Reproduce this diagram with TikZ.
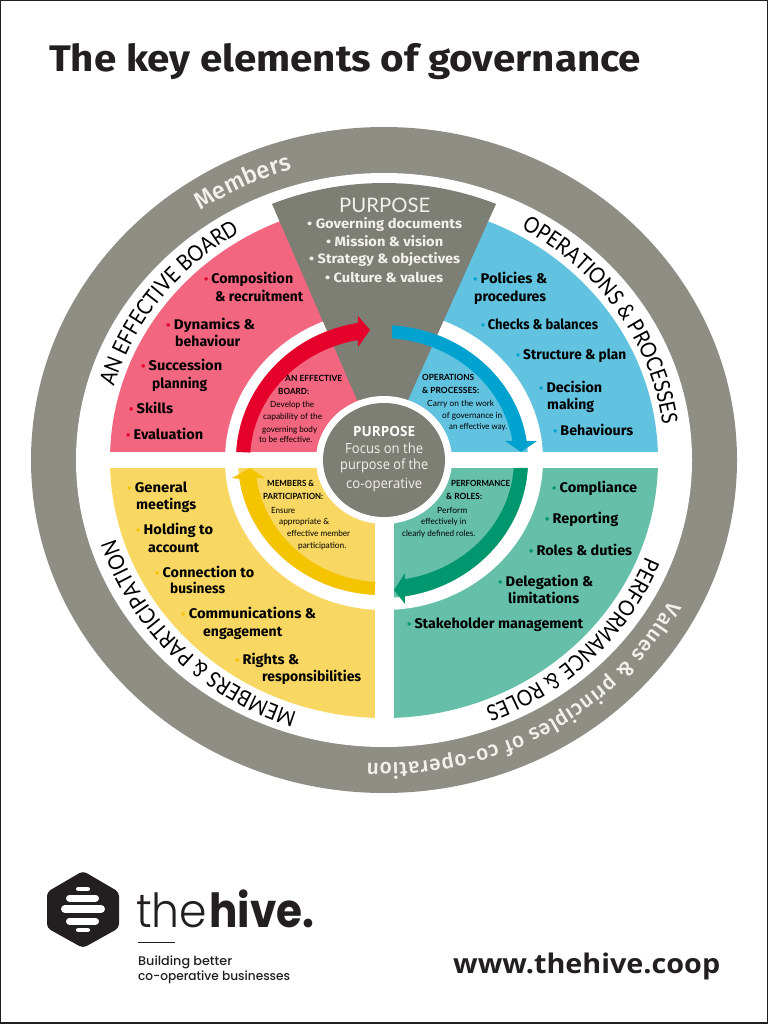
\documentclass[tikz,border=0pt]{standalone}
\usepackage{fontspec}
\usepackage{graphicx}
\usetikzlibrary{decorations.text}
\setmainfont{Lato}
\newfontfamily\itemf{Fira Sans}
\newfontfamily\ringmed{Fira Sans Medium}
\newfontfamily\capf{Lato}
\newfontfamily\ringf{Lato}[FakeStretch=0.88]
\newfontfamily\wwwf{Open Sans}
\newfontfamily\popf{Poppins}
\newfontfamily\poplight{Poppins Light}
\newfontfamily\popmed{Poppins Medium}
\definecolor{ringgray}{HTML}{8F8E84}
\definecolor{wedgegray}{HTML}{7D7E74}
\definecolor{qpink}{HTML}{F2667F}
\definecolor{qblue}{HTML}{62C3E0}
\definecolor{qteal}{HTML}{65BFA9}
\definecolor{qyellow}{HTML}{F8D862}
\definecolor{ared}{HTML}{E4002B}
\definecolor{ablue}{HTML}{00A3D0}
\definecolor{ateal}{HTML}{00966E}
\definecolor{ayellow}{HTML}{F5C400}
\definecolor{inkdark}{HTML}{231F20}
\definecolor{softwhite}{HTML}{F2F2EC}
\newcommand\tline[6]{\node[anchor=base west,inner sep=0pt,#5] (#1) at (#2,-#4) {\resizebox{\dimexpr #3pt-#2pt\relax}{\height}{#6}};}
\newcommand\qfill[8]{\begin{scope}\clip (#8,-460) ellipse [x radius=#6pt,y radius=#7pt]; \fill[#1] (#2,-#3) rectangle (#4,-#5);\end{scope}}
\newcommand\bu[1]{\textcolor{#1}{\fontsize{12}{12}\selectfont•}\hspace{3pt}}
\newcommand\ringcap{\ringf\fontsize{22}{22}\selectfont\color{black}}
\newcommand\ringwhite{\ringmed\fontsize{21}{21}\selectfont\color{softwhite}}
\newcommand\ringbig{\ringmed\fontsize{24}{24}\selectfont\color{softwhite}}
\newcommand\ringtext[6]{\path[decorate,decoration={text along path,text align={fit to path},text={|#6|#5}}] ([shift={(384,-460)}]#1:#3pt and #4pt) arc[start angle=#1,end angle=#2,x radius=#3pt,y radius=#4pt];}
\tikzset{
 itm/.style={font=\itemf\bfseries\fontsize{14}{14}\selectfont,text=black},
 wdg/.style={font=\itemf\bfseries\fontsize{13.5}{14}\selectfont,text=softwhite},
 smh/.style={font=\capf\bfseries\fontsize{8.5}{9}\selectfont,text=black},
 sml/.style={font=\capf\fontsize{8.5}{9}\selectfont,text=black},
 ctr/.style={font=\wwwf\fontsize{14}{14}\selectfont,text=softwhite},
 ctrb/.style={font=\wwwf\bfseries\fontsize{14}{14}\selectfont,text=white},
}
\begin{document}
\begin{tikzpicture}[x=1pt,y=1pt]
\useasboundingbox (0,0) rectangle (768,-1024);
\fill[white] (0,0) rectangle (768,-1024);
\draw[inkdark,line width=1.5pt] (0.5,-0.5) rectangle (767.5,-1023);
% title
\tline{title}{49}{641}{72}{font=\itemf\bfseries\fontsize{37}{38}\selectfont,text=inkdark}{The key elements of governance}
% rings
\fill[ringgray] (384,-460) ellipse [x radius=353pt,y radius=333pt];
\fill[white] (384,-460) ellipse [x radius=308pt,y radius=287pt];
% quadrants
\qfill{qpink}{90}{180}{375}{452}{274}{258}{384}
\qfill{qblue}{394}{180}{680}{452}{274}{258}{384}
\qfill{qteal}{394}{468}{680}{740}{274}{258}{384}
\qfill{qyellow}{90}{468}{375}{740}{274}{258}{384}
\fill[white] (384,-460) ellipse [x radius=159pt,y radius=150pt];
\qfill{qpink}{200}{300}{375}{452}{146}{139}{382}
\qfill{qblue}{394}{300}{560}{452}{146}{135}{382}
\qfill{qteal}{394}{468}{560}{620}{146}{138}{382}
\qfill{qyellow}{200}{468}{375}{620}{144}{135}{382}
% purpose wedge
\fill[wedgegray] ([shift={(384,-460)}]112.4:294pt and 277pt) arc[start angle=112.4,end angle=67.6,x radius=294pt,y radius=277pt] -- (408,-400) -- (357,-400) -- cycle;
% arrows
\begin{scope}[shift={(382,-460)}]
\fill[ared] (176.7:146pt and 139pt) arc[start angle=176.7,end angle=99.5,x radius=146pt,y radius=139pt] -- (-24,144) -- (-12,130) -- (-24,113) -- (100.5:132pt and 122pt) arc[start angle=100.5,end angle=176.5,x radius=132pt,y radius=122pt] -- cycle;
\fill[ablue] (86:146pt and 135pt) arc[start angle=86,end angle=8,x radius=146pt,y radius=135pt] -- (155,19) -- (139,8) -- (123,19) -- (9:132pt and 122pt) arc[start angle=9,end angle=85.7,x radius=132pt,y radius=122pt] -- cycle;
\fill[ateal] (-3.3:146pt and 138pt) arc[start angle=-3.3,end angle=-81,x radius=146pt,y radius=138pt] -- (23,-144) -- (12,-130) -- (23,-113) -- (-80:132pt and 121pt) arc[start angle=-80,end angle=-3.8,x radius=132pt,y radius=121pt] -- cycle;
\fill[ayellow] (267:144pt and 135pt) arc[start angle=267,end angle=188,x radius=144pt,y radius=135pt] -- (-150,-18) -- (-132,-8) -- (-117,-18) -- (188.5:127pt and 122pt) arc[start angle=188.5,end angle=267,x radius=127pt,y radius=122pt] -- cycle;
\end{scope}
% centre
\fill[white] (384,-460) ellipse [x radius=68pt,y radius=64pt];
\fill[wedgegray] (384,-460) ellipse [x radius=61pt,y radius=57pt];
\tline{c1}{353}{415}{436}{ctrb}{PURPOSE}
\tline{c2}{345}{423}{453}{ctr}{Focus on the}
\tline{c3}{340}{428}{469}{ctr}{purpose of the}
\tline{c4}{346}{422}{488}{ctr}{co-operative}
% ring texts
\ringtext{124.7}{106.6}{322}{303}{Members}{\ringbig}
\ringtext{-27.7}{-93}{322}{303}{Values {\&} principles of co-operation}{\ringwhite}
\ringtext{164}{121.4}{281}{265}{AN EFFECTIVE BOARD}{\ringcap}
\ringtext{60.8}{7.6}{281}{265}{OPERATIONS {\&} PROCESSES}{\ringcap}
\ringtext{-21.4}{-68.4}{281}{265}{PERFORMANCE {\&} ROLES}{\ringcap}
\ringtext{252}{198}{281}{265}{MEMBERS {\&} PARTICIPATION}{\ringcap}
% wedge text
\tline{w0}{339}{430}{212}{font=\capf\fontsize{20}{20}\selectfont,text=softwhite}{PURPOSE}
\tline{w1}{307}{462}{229}{wdg}{• Governing documents}
\tline{w2}{326}{443}{247}{wdg}{• Mission \& vision}
\tline{w3}{309}{460}{264}{wdg}{• Strategy \& objectives}
\tline{w4}{325}{443}{282}{wdg}{• Culture \& values}
% pink items
\tline{p1}{204}{293}{283}{itm}{\bu{ared}Composition}
\tline{p1b}{215}{303}{301}{itm}{\& recruitment}
\tline{p2}{166}{255}{329}{itm}{\bu{ared}Dynamics \&}
\tline{p2b}{175}{240}{346}{itm}{behaviour}
\tline{p3}{141}{222}{370}{itm}{\bu{ared}Succession}
\tline{p3b}{152}{207}{388}{itm}{planning}
\tline{p4}{129}{173}{413}{itm}{\bu{ared}Skills}
\tline{p5}{126}{203}{439}{itm}{\bu{ared}Evaluation}
% blue items
\tline{b1}{473}{547}{283}{itm}{\bu{ablue}Policies \&}
\tline{b1b}{474}{546}{301}{itm}{procedures}
\tline{b2}{481}{598}{329}{itm}{\bu{ablue}Checks \& balances}
\tline{b3}{516}{626}{359}{itm}{\bu{ablue}Structure \& plan}
\tline{b4}{539}{602}{392}{itm}{\bu{ablue}Decision}
\tline{b4b}{547}{594}{409}{itm}{making}
\tline{b5}{553}{633}{435}{itm}{\bu{ablue}Behaviours}
% teal items
\tline{t1}{552}{637}{492}{itm}{\bu{ateal}Compliance}
\tline{t2}{545}{618}{523}{itm}{\bu{ateal}Reporting}
\tline{t3}{529}{632}{555}{itm}{\bu{ateal}Roles \& duties}
\tline{t4}{498}{593}{586}{itm}{\bu{ateal}Delegation \&}
\tline{t4b}{508}{579}{603}{itm}{limitations}
\tline{t5}{407}{583}{628}{itm}{\bu{ateal}Stakeholder management}
% yellow items
\tline{y1}{127}{187}{492}{itm}{\bu{ayellow}General}
\tline{y1b}{136}{196}{509}{itm}{meetings}
\tline{y2}{136}{213}{534}{itm}{\bu{ayellow}Holding to}
\tline{y2b}{148}{199}{552}{itm}{account}
\tline{y3}{155}{254}{577}{itm}{\bu{ayellow}Connection to}
\tline{y3b}{170}{225}{593}{itm}{business}
\tline{y4}{181}{316}{618}{itm}{\bu{ayellow}Communications \&}
\tline{y4b}{203}{282}{636}{itm}{engagement}
\tline{y5}{235}{299}{664}{itm}{\bu{ayellow}Rights \&}
\tline{y5b}{262}{361}{681}{itm}{responsibilities}
% small inner texts
\tline{sa1}{285}{342}{381}{smh}{AN EFFECTIVE}
\tline{sa2}{278}{309}{394}{smh}{BOARD:}
\tline{sa3}{270}{314}{407}{sml}{Develop the}
\tline{sa4}{263}{322}{419}{sml}{capability of the}
\tline{sa5}{262}{317}{432}{sml}{governing body}
\tline{sa6}{259}{312}{442}{sml}{to be effective.}
\tline{sb1}{422}{474}{380}{smh}{OPERATIONS}
\tline{sb2}{422}{479}{393}{smh}{\& PROCESSES:}
\tline{sb3}{427}{494}{406}{sml}{Carry on the work}
\tline{sb4}{442}{502}{418}{sml}{of governance in}
\tline{sb5}{449}{507}{429}{sml}{an effective way.}
\tline{sc1}{267}{314}{486}{smh}{MEMBERS \&}
\tline{sc2}{263}{323}{499}{smh}{PARTICIPATION:}
\tline{sc3}{271}{295}{513}{sml}{Ensure}
\tline{sc4}{279}{329}{524}{sml}{appropriate \&}
\tline{sc5}{287}{350}{536}{sml}{effective member}
\tline{sc6}{298}{346}{548}{sml}{participation.}
\tline{sd1}{451}{510}{486}{smh}{PERFORMANCE}
\tline{sd2}{446}{482}{499}{smh}{\& ROLES:}
\tline{sd3}{437}{467}{513}{sml}{Perform}
\tline{sd4}{421}{466}{524}{sml}{effectively in}
\tline{sd5}{402}{475}{536}{sml}{clearly defined roles.}
% logo
\fill[inkdark,rounded corners=4pt] (83,-871) -- (119,-892) -- (119,-928) -- (83,-948) -- (47,-928) -- (47,-892) -- cycle;
\foreach \py/\pa/\pb/\ph in {889/76/90/4.5, 898/66/99/7, 909/61/105/8, 921/66/99/7, 930/76/90/4.5}{
  \draw[white,line width=\ph pt,line cap=round] ({\pa+\ph/2},-\py) -- ({\pb-\ph/2},-\py);
}
\tline{lg1}{136}{207}{927}{font=\poplight\fontsize{47}{47}\selectfont,text=inkdark}{the}
\tline{lg2}{209}{314}{927}{font=\popf\bfseries\fontsize{47}{47}\selectfont,text=inkdark}{hive.}
\draw[inkdark,line width=0.8pt] (138,-942) -- (175,-942);
\tline{lg3}{138}{232}{965}{font=\popmed\fontsize{12.5}{13}\selectfont,text=inkdark}{Building better}
\tline{lg4}{138}{290}{980}{font=\popmed\fontsize{12.5}{13}\selectfont,text=inkdark}{co-operative businesses}
\tline{url}{453}{720}{973}{font=\wwwf\bfseries\fontsize{27}{27}\selectfont,text=inkdark}{www.thehive.coop}
\end{tikzpicture}
\end{document}
